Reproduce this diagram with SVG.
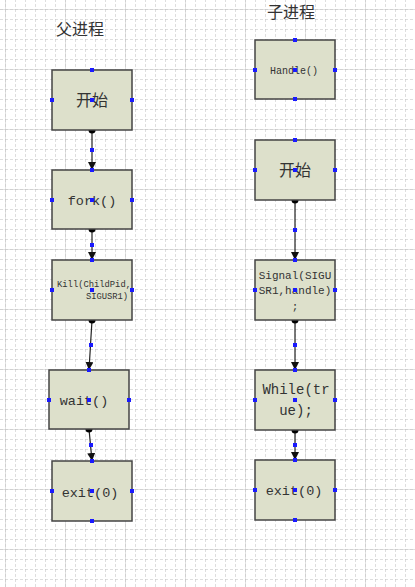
<svg xmlns="http://www.w3.org/2000/svg" width="415" height="587" viewBox="0 0 415 587">
<style>
.box{fill:#dde0cb;stroke:#444;stroke-width:1.5}
.t{font-family:"Liberation Mono","Noto Sans CJK SC",monospace;fill:#333;text-anchor:middle}
.cn{font-family:"Noto Sans CJK SC",sans-serif;fill:#333;text-anchor:middle}
.c{stroke:#222;stroke-width:1.2;fill:none;marker-end:url(#ah)}
.dot{fill:#000}
.bm{fill:#1a1aff}
</style>
<defs>
<pattern id="grid" x="5" y="9" width="10" height="10" patternUnits="userSpaceOnUse">
<line x1="0" y1="0" x2="10" y2="0" stroke="#bdbdbd" stroke-width="1" stroke-dasharray="3,2"/>
<line x1="0" y1="0" x2="0" y2="10" stroke="#bdbdbd" stroke-width="1" stroke-dasharray="3,2"/>
</pattern>
<pattern id="grid2" x="5" y="9" width="60" height="60" patternUnits="userSpaceOnUse">
<line x1="0" y1="0" x2="60" y2="0" stroke="#e2e2e2" stroke-width="2"/>
<line x1="0" y1="0" x2="0" y2="60" stroke="#e2e2e2" stroke-width="2"/>
</pattern>
<marker id="ah" viewBox="0 0 10 10" refX="10" refY="5" markerWidth="8" markerHeight="8" markerUnits="userSpaceOnUse" orient="auto">
<path d="M0,0 L10,5 L0,10 z" fill="#111"/>
</marker>
<symbol id="m" viewBox="0 0 4 4" overflow="visible">
<rect x="-2" y="-2" width="4" height="4" class="bm"/>
</symbol>
</defs>
<rect width="415" height="587" fill="#fff"/>
<rect width="415" height="587" fill="url(#grid2)"/>
<rect width="415" height="587" fill="url(#grid)"/>

<text class="cn" x="80" y="35" font-size="16">父进程</text>
<text class="cn" x="291" y="18" font-size="16">子进程</text>

<g id="connectors">
<line class="c" x1="92" y1="130" x2="92" y2="170"/>
<line class="c" x1="92" y1="229" x2="92" y2="260"/>
<line class="c" x1="92" y1="320" x2="89" y2="370"/>
<line class="c" x1="89" y1="429" x2="92" y2="461"/>
<line class="c" x1="295" y1="200" x2="295" y2="260"/>
<line class="c" x1="295" y1="320" x2="295" y2="370"/>
<line class="c" x1="295" y1="430" x2="295" y2="460"/>
<circle class="dot" cx="92" cy="130" r="3.5"/>
<circle class="dot" cx="92" cy="229" r="3.5"/>
<circle class="dot" cx="92" cy="320" r="3.5"/>
<circle class="dot" cx="89" cy="429" r="3.5"/>
<circle class="dot" cx="295" cy="200" r="3.5"/>
<circle class="dot" cx="295" cy="320" r="3.5"/>
<circle class="dot" cx="295" cy="430" r="3.5"/>
<rect class="bm" x="90" y="148" width="4" height="4"/>
<rect class="bm" x="90" y="243" width="4" height="4"/>
<rect class="bm" x="89" y="343" width="4" height="4"/>
<rect class="bm" x="89" y="443" width="4" height="4"/>
<rect class="bm" x="293" y="228" width="4" height="4"/>
<rect class="bm" x="293" y="343" width="4" height="4"/>
<rect class="bm" x="293" y="443" width="4" height="4"/>
</g>

<g id="p_start">
<rect class="box" x="52" y="70" width="80" height="60"/>
<text class="cn" x="92" y="106" font-size="16">开始</text>
<rect class="bm" x="90" y="68" width="4" height="4"/><rect class="bm" x="50" y="98" width="4" height="4"/><rect class="bm" x="130" y="98" width="4" height="4"/><rect class="bm" x="90" y="98" width="4" height="4"/>
</g>
<g id="p_fork">
<rect class="box" x="52" y="170" width="80" height="59"/>
<text class="t" x="92" y="205" font-size="13.5">fork()</text>
<rect class="bm" x="90" y="168" width="4" height="4"/><rect class="bm" x="50" y="198" width="4" height="4"/><rect class="bm" x="130" y="198" width="4" height="4"/><rect class="bm" x="90" y="198" width="4" height="4"/>
</g>
<g id="p_kill">
<rect class="box" x="52" y="260" width="80" height="60"/>
<text class="t" x="94" y="287" font-size="8.8">Kill(ChildPid,</text>
<text class="t" x="107" y="299" font-size="8.8">SIGUSR1)</text>
<rect class="bm" x="90" y="258" width="4" height="4"/><rect class="bm" x="50" y="288" width="4" height="4"/><rect class="bm" x="130" y="288" width="4" height="4"/><rect class="bm" x="90" y="288" width="4" height="4"/>
</g>
<g id="p_wait">
<rect class="box" x="49" y="370" width="80" height="59"/>
<text class="t" x="84" y="405" font-size="13.5">wait()</text>
<rect class="bm" x="87" y="368" width="4" height="4"/><rect class="bm" x="47" y="398" width="4" height="4"/><rect class="bm" x="127" y="398" width="4" height="4"/><rect class="bm" x="87" y="398" width="4" height="4"/>
</g>
<g id="p_exit">
<rect class="box" x="52" y="461" width="80" height="60"/>
<text class="t" x="90" y="497" font-size="13.5">exit(0)</text>
<rect class="bm" x="90" y="459" width="4" height="4"/><rect class="bm" x="50" y="489" width="4" height="4"/><rect class="bm" x="130" y="489" width="4" height="4"/><rect class="bm" x="90" y="489" width="4" height="4"/><rect class="bm" x="90" y="519" width="4" height="4"/>
</g>

<g id="c_handle">
<rect class="box" x="255" y="40" width="80" height="59"/>
<text class="t" x="294" y="74" font-size="10">Handle()</text>
<rect class="bm" x="293" y="38" width="4" height="4"/><rect class="bm" x="253" y="68" width="4" height="4"/><rect class="bm" x="333" y="68" width="4" height="4"/><rect class="bm" x="293" y="68" width="4" height="4"/><rect class="bm" x="293" y="97" width="4" height="4"/>
</g>
<g id="c_start">
<rect class="box" x="255" y="140" width="80" height="60"/>
<text class="cn" x="295" y="176" font-size="16">开始</text>
<rect class="bm" x="293" y="138" width="4" height="4"/><rect class="bm" x="253" y="168" width="4" height="4"/><rect class="bm" x="333" y="168" width="4" height="4"/><rect class="bm" x="293" y="168" width="4" height="4"/>
</g>
<g id="c_signal">
<rect class="box" x="255" y="260" width="80" height="60"/>
<text class="t" x="295" y="279" font-size="11">Signal(SIGU</text>
<text class="t" x="295" y="294" font-size="11">SR1,handle)</text>
<text class="t" x="295" y="310" font-size="11">;</text>
<rect class="bm" x="293" y="258" width="4" height="4"/><rect class="bm" x="253" y="288" width="4" height="4"/><rect class="bm" x="333" y="288" width="4" height="4"/><rect class="bm" x="293" y="288" width="4" height="4"/>
</g>
<g id="c_while">
<rect class="box" x="255" y="370" width="80" height="60"/>
<text class="t" x="296" y="394" font-size="14">While(tr</text>
<text class="t" x="296" y="415" font-size="14">ue);</text>
<rect class="bm" x="293" y="368" width="4" height="4"/><rect class="bm" x="253" y="398" width="4" height="4"/><rect class="bm" x="333" y="398" width="4" height="4"/><rect class="bm" x="293" y="398" width="4" height="4"/>
</g>
<g id="c_exit">
<rect class="box" x="255" y="460" width="80" height="60"/>
<text class="t" x="294" y="495" font-size="13.5">exit(0)</text>
<rect class="bm" x="293" y="458" width="4" height="4"/><rect class="bm" x="253" y="488" width="4" height="4"/><rect class="bm" x="333" y="488" width="4" height="4"/><rect class="bm" x="293" y="488" width="4" height="4"/><rect class="bm" x="293" y="518" width="4" height="4"/>
</g>
</svg>
